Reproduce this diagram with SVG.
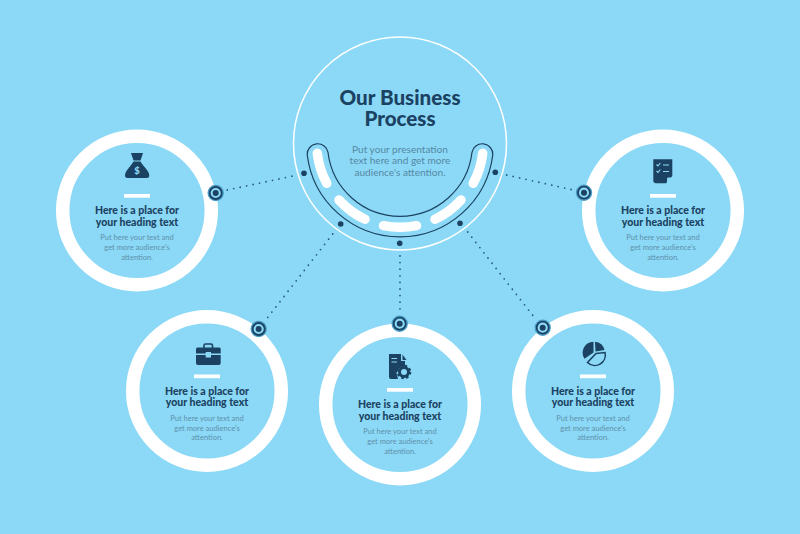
<svg xmlns="http://www.w3.org/2000/svg" width="800" height="534" viewBox="0 0 800 534">
<style>
.ring{fill:none;stroke:#fff;stroke-width:13.5}
.bar{fill:#fff}
.dark{fill:#1b4262}
.title{font:900 20.6px Lato,"Liberation Sans",sans-serif;fill:#1b4262;text-anchor:middle}
.lead{font:400 10.1px Lato,"Liberation Sans",sans-serif;fill:#5688a5;text-anchor:middle}
.head{font:900 10.5px Lato,"Liberation Sans",sans-serif;fill:#1b4262;text-anchor:middle}
.body{font:400 7.5px Lato,"Liberation Sans",sans-serif;fill:#5f90ac;text-anchor:middle}
.dots{fill:none;stroke:#2a5b7d;stroke-width:1.8;stroke-linecap:round;stroke-dasharray:0 6.6}
.dash{fill:none;stroke:#fff;stroke-width:9.5;stroke-linecap:round}
</style>
<defs>
<g id="target">
<circle r="8.2" fill="#4a9cc6"/>
<circle r="6" fill="#8bd9f6" stroke="#1b4262" stroke-width="1.8"/>
<circle r="3" fill="#1b4262"/>
</g>
<g id="card">
<circle r="74.3" class="ring"/>
<rect x="-13" y="-16.5" width="26" height="3.7" class="bar"/>
<text class="head" y="3.5">Here is a place for</text>
<text class="head" y="15.2">your heading text</text>
<text class="body" y="29.5">Put here your text and</text>
<text class="body" y="39.5">get more audience's</text>
<text class="body" y="49.2">attention.</text>
</g>
</defs>
<rect width="800" height="534" fill="#8bd9f6"/>
<g id="connectors">
<path class="dots" d="M227.3 190L294.3 175.7"/>
<path class="dots" d="M506.7 175L573.3 190"/>
<path class="dots" d="M332.7 234L265.7 320"/>
<path class="dots" d="M400 256V314"/>
<path class="dots" d="M467.7 232L535 318.3"/>
</g>
<g id="center">
<circle cx="400" cy="143.5" r="106.5" fill="none" stroke="#fff" stroke-width="1.5"/>
<path d="M307.2 154.8A93.5 93.5 0 0 0 492.8 154.8A10.5 10.5 0 0 0 472 152.3A72.5 72.5 0 0 1 328 152.3A10.5 10.5 0 0 0 307.2 154.8Z" fill="none" stroke="#1b4262" stroke-width="1.2"/>
<path class="dash" d="M317.3 153.3A83.3 83.3 0 0 0 326.7 183.3"/>
<path class="dash" d="M339 200A83.3 83.3 0 0 0 365 219.3"/>
<path class="dash" d="M383.5 225.7A83.3 83.3 0 0 0 416.5 225.7"/>
<path class="dash" d="M435 219.3A83.3 83.3 0 0 0 461 200"/>
<path class="dash" d="M473.3 183.3A83.3 83.3 0 0 0 482.7 153.3"/>
<circle class="dark" cx="304" cy="173.3" r="2.8"/>
<circle class="dark" cx="340.7" cy="224" r="2.8"/>
<circle class="dark" cx="399.7" cy="243.3" r="2.8"/>
<circle class="dark" cx="460" cy="223.3" r="2.8"/>
<circle class="dark" cx="495.3" cy="172.3" r="2.8"/>
<text class="title" x="400" y="105">Our Business</text>
<text class="title" x="400" y="125.500">Process</text>
<text class="lead" x="400" y="152.5">Put your presentation</text>
<text class="lead" x="400" y="164">text here and get more</text>
<text class="lead" x="400" y="175.7">audience's attention.</text>
</g>
<g id="node-left">
<use href="#card" x="137" y="210.5"/>
<use href="#target" x="215.7" y="193"/>
<path class="dark" d="M131 153H143L140.5 160.5H133.5ZM133.5 161.5H140.5C143 166 149.3 171 149.3 175.5Q149.3 178 146.5 178H127.8Q125 178 125 175.5C125 171 131 166 133.5 161.5Z"/>
<text x="137" y="174" font-family="Lato,sans-serif" font-size="9.5" font-weight="900" fill="#8bd9f6" text-anchor="middle">$</text>
</g>
<g id="node-right">
<use href="#card" x="663" y="210.5"/>
<use href="#target" x="584" y="192.7"/>
<path class="dark" d="M653.3 159.3H672.3V176L666 183.3H656Q653.3 183.3 653.3 180.5Z"/>
<path d="M667 183.3L672.3 177.5H668Q667 177.5 667 179Z" fill="#8bd9f6"/>
<path d="M656.5 164.5L658 166L660.3 163M656.5 171L658 172.5L660.3 169.5M663 165H669M663 171.5H669" fill="none" stroke="#8bd9f6" stroke-width="1.1"/>
</g>
<g id="node-bottom-left">
<use href="#card" x="207" y="391"/>
<use href="#target" x="258.7" y="329"/>
<path d="M204 348V345.5Q204 344 205.5 344H211Q212.5 344 212.5 345.5V348" fill="none" stroke="#1b4262" stroke-width="1.6"/>
<path class="dark" d="M197.5 347.5H219.3Q220.7 347.5 220.7 349V353.5H211V352H205.7V353.5H196V349Q196 347.5 197.5 347.5ZM196 355H205.7V357.5H211V355H220.7V363Q220.7 365 218.7 365H198Q196 365 196 363Z"/>
</g>
<g id="node-bottom-middle">
<use href="#card" x="400" y="404.5"/>
<use href="#target" x="399.7" y="323.7"/>
<path class="dark" d="M389 354H401V361H405V366Q398 367 396.500 373L398 379H391Q389 379 389 377Z"/>
<path d="M402.500 354.500L406.500 360H402.500Z" class="dark"/>
<path d="M391.500 358.500H397M391.500 362H397" stroke="#8bd9f6" stroke-width="1.2" fill="none"/>
<circle cx="404" cy="372" r="4.500" fill="none" stroke="#1b4262" stroke-width="3"/>
<circle cx="404" cy="372" r="6.300" fill="none" stroke="#1b4262" stroke-width="2" stroke-dasharray="2.500 2.450"/>
</g>
<g id="node-bottom-right">
<use href="#card" x="593" y="391"/>
<use href="#target" x="542.700" y="327.700"/>
<path class="dark" d="M593.500 341.700A11 11 0 0 0 584.500 358.800L593.500 352.500Z"/>
<path class="dark" d="M595 341.700A11 11 0 0 1 604.500 350L595.500 351.500Z"/>
<path d="M596 353.500L605 352.500A10.500 10.500 0 0 1 587.500 362.500Z" fill="none" stroke="#1b4262" stroke-width="1.500"/>
</g>
</svg>
